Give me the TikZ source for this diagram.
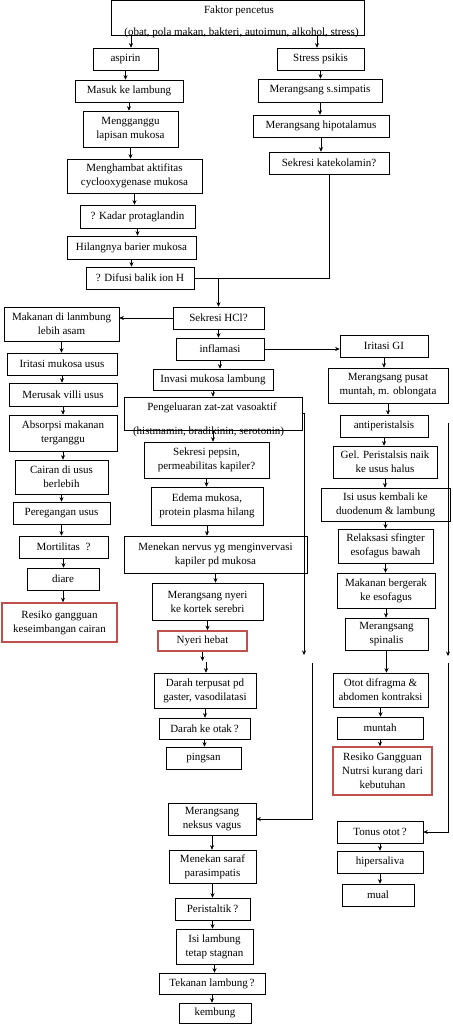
\documentclass[tikz,border=0pt]{standalone}
\usepackage{fontspec}
\setmainfont{Liberation Serif}
\usetikzlibrary{arrows.meta}
\definecolor{resred}{RGB}{192,80,77}

\begin{document}
\begin{tikzpicture}[x=1pt,y=-1pt,
  box/.style={draw, line width=0.6pt, align=center, inner sep=0pt, font=\fontsize{11}{14}\selectfont},
  redbox/.style={box, draw=resred, line width=1.5pt},
  txt/.style={inner sep=0pt, font=\fontsize{11}{14}\selectfont},
  arr/.style={line width=0.6pt, -{Stealth[length=4.5pt,width=4pt]}},
  ln/.style={line width=0.6pt}]

\useasboundingbox (0,0) rectangle (452,1024);

% top
\node[box, minimum width=253pt, minimum height=35pt] (fak) at (237.5,17.8) {};
\node[txt] (faktxt) at (239,11) {Faktor pencetus};
\node[txt] (fakcat) at (241.5,33) {(obat, pola makan, bakteri, autoimun, alkohol, stress)};

% left branch (aspirin)
\node[box, minimum width=65pt, minimum height=22pt] (asp) at (125.5,59) {aspirin};
\node[box, minimum width=108pt, minimum height=22pt] (masuk) at (129,91) {Masuk ke lambung};
\node[box, minimum width=95pt, minimum height=36pt] (ganggu) at (130.5,129) {Mengganggu\\lapisan mukosa};
\node[box, minimum width=135pt, minimum height=34pt] (hambat) at (134.5,176) {Menghambat aktifitas\\cyclooxygenase mukosa};
\node[box, minimum width=115pt, minimum height=23pt] (kadar) at (137.5,216.5) {? Kadar protaglandin};
\node[box, minimum width=129pt, minimum height=23pt] (hilang) at (131.5,247.5) {Hilangnya barier mukosa};
\node[box, minimum width=108pt, minimum height=22pt] (difusi) at (140,278) {? Difusi balik ion H};

% right branch (stress)
\node[box, minimum width=87pt, minimum height=22pt] (stress) at (320.5,59) {Stress psikis};
\node[box, minimum width=124pt, minimum height=23pt] (simpatis) at (320,90.5) {Merangsang s.simpatis};
\node[box, minimum width=136pt, minimum height=22pt] (hipot) at (321,126) {Merangsang hipotalamus};
\node[box, minimum width=120pt, minimum height=22pt] (katek) at (329,163) {Sekresi katekolamin?};

% left column
\node[box, minimum width=115pt, minimum height=34pt] (makan) at (61.5,324) {Makanan di lanmbung\\lebih asam};
\node[box, minimum width=110pt, minimum height=22pt] (iritmuk) at (62,364) {Iritasi mukosa usus};
\node[box, minimum width=108pt, minimum height=23pt] (villi) at (63,394.5) {Merusak villi usus};
\node[box, minimum width=108pt, minimum height=36pt] (absorp) at (63,433) {Absorpsi makanan\\terganggu};
\node[box, minimum width=93pt, minimum height=34pt] (cairan) at (61.5,477) {Cairan di usus\\berlebih};
\node[box, minimum width=97pt, minimum height=22pt] (regang) at (61.5,513) {Peregangan usus};
\node[box, minimum width=89pt, minimum height=22pt] (mortil) at (63.5,547) {Mortilitas \ ?};
\node[box, minimum width=72pt, minimum height=22pt] (diare) at (63,579) {diare};
\node[redbox, minimum width=115pt, minimum height=39pt] (resikocair) at (59.5,622.5) {Resiko gangguan\\keseimbangan cairan};

% center column
\node[box, minimum width=91pt, minimum height=22pt] (hcl) at (218.5,318) {Sekresi HCl?};
\node[box, minimum width=88pt, minimum height=22pt] (inflam) at (220,349) {inflamasi};
\node[box, minimum width=120pt, minimum height=21pt] (invasi) at (213,379.5) {Invasi mukosa lambung};
\node[box, minimum width=178pt, minimum height=33pt] (vaso) at (213,413.5) {};
\node[txt] (vasotxt) at (212,408) {Pengeluaran zat-zat vasoaktif};
\node[txt] (vasocat) at (208.5,431.5) {(histmamin, bradikinin, serotonin)};
\node[box, minimum width=125pt, minimum height=36pt] (pepsin) at (206.5,460) {Sekresi pepsin,\\permeabilitas kapiler?};
\node[box, minimum width=112pt, minimum height=38pt] (edema) at (207,506) {Edema mukosa,\\protein plasma hilang};
\node[box, minimum width=183pt, minimum height=37pt] (nervus) at (215.5,554.5) {Menekan nervus yg menginvervasi\\kapiler pd mukosa};
\node[box, minimum width=111pt, minimum height=37pt] (nyeri) at (207.5,601.5) {Merangsang nyeri\\ke kortek serebri};
\node[redbox, minimum width=89pt, minimum height=20pt] (hebat) at (202.5,641) {Nyeri hebat};
\node[box, minimum width=102pt, minimum height=35pt] (terpusat) at (205,690.5) {Darah terpusat pd\\gaster, vasodilatasi};
\node[box, minimum width=91pt, minimum height=21pt] (otak) at (204.5,728.5) {Darah ke otak\,?};
\node[box, minimum width=75pt, minimum height=22pt] (pingsan) at (203.5,758) {pingsan};
\node[box, minimum width=88pt, minimum height=32pt] (vagus) at (212,819) {Merangsang\\neksus vagus};
\node[box, minimum width=87pt, minimum height=33pt] (parasim) at (212.5,866.5) {Menekan saraf\\parasimpatis};
\node[box, minimum width=75pt, minimum height=22pt] (peris) at (212.5,909) {Peristaltik\,?};
\node[box, minimum width=77pt, minimum height=35pt] (stagnan) at (214.5,946.5) {Isi lambung\\tetap stagnan};
\node[box, minimum width=106pt, minimum height=21pt] (tekanan) at (212,983.5) {Tekanan lambung\,?};
\node[box, minimum width=72pt, minimum height=20pt] (kembung) at (215,1013) {kembung};

% right column
\node[box, minimum width=88pt, minimum height=22pt] (iritgi) at (384,346) {Iritasi GI};
\node[box, minimum width=120pt, minimum height=35pt] (pusat) at (388,385.5) {Merangsang pusat\\muntah, m. oblongata};
\node[box, minimum width=88pt, minimum height=22pt] (antip) at (384,426) {antiperistalsis};
\node[box, minimum width=104pt, minimum height=32pt] (gel) at (385,462) {Gel. Peristalsis naik\\ke usus halus};
\node[box, minimum width=129pt, minimum height=33pt] (isi) at (385.5,504.5) {Isi usus kembali ke\\duodenum \& lambung};
\node[box, minimum width=95pt, minimum height=34pt] (relaks) at (385.5,546) {Relaksasi sfingter\\esofagus bawah};
\node[box, minimum width=98pt, minimum height=35pt] (bergerak) at (386,590.5) {Makanan bergerak\\ke esofagus};
\node[box, minimum width=83pt, minimum height=32pt] (spinal) at (386.5,634) {Merangsang\\spinalis};
\node[box, minimum width=95pt, minimum height=34pt] (otot) at (380.5,690) {Otot difragma \&\\abdomen kontraksi};
\node[box, minimum width=86pt, minimum height=22pt] (muntah) at (380,728) {muntah};
\node[redbox, minimum width=99pt, minimum height=48pt] (resikonut) at (382.5,771) {Resiko Gangguan\\Nutrsi kurang dari\\kebutuhan};
\node[box, minimum width=86pt, minimum height=22pt] (tonus) at (380,832) {Tonus otot\,?};
\node[box, minimum width=86pt, minimum height=22pt] (hiper) at (380,862) {hipersaliva};
\node[box, minimum width=72pt, minimum height=22pt] (mual) at (378,895) {mual};

% arrows down
\draw[arr] (fak.south -| 131,0) -- (131,0 |- asp.north);
\draw[arr] (fak.south -| 317,0) -- (317,0 |- stress.north);
\foreach \a/\b in {asp/masuk, masuk/ganggu, ganggu/hambat, hambat/kadar, kadar/hilang, hilang/difusi,
  stress/simpatis, simpatis/hipot, hipot/katek,
  makan/iritmuk, iritmuk/villi, villi/absorp, absorp/cairan, cairan/regang, regang/mortil, mortil/diare, diare/resikocair,
  hcl/inflam, inflam/invasi, invasi/vaso, vaso/pepsin, pepsin/edema, edema/nervus, nervus/nyeri, nyeri/hebat,
  terpusat/otak, otak/pingsan, vagus/parasim, parasim/peris, peris/stagnan, stagnan/tekanan, tekanan/kembung,
  iritgi/pusat, pusat/antip, antip/gel, gel/isi, isi/relaks, relaks/bergerak, bergerak/spinal, spinal/otot,
  otot/muntah, muntah/resikonut, tonus/hiper, hiper/mual}
  \draw[arr] (\a.south) -- (\a.south |- \b.north);

% join of both branches
\draw[ln] (katek.south) |- (difusi.east);
\draw[arr] (hcl.north |- difusi.east) -- (hcl.north);
\draw[arr] (hcl.west) -- (makan.east |- hcl.west);
\draw[arr] (inflam.east) -- (iritgi.west |- inflam.east);

% nyeri hebat (broken arrow)
\coordinate (hebatend) at (202.5,661);
\coordinate (terpusatstart) at (206,662);
\draw[arr] (hebat.south) -- (hebatend);
\draw[arr] (terpusatstart) -- (terpusatstart |- terpusat.north);

% long lines on the right
\coordinate (vasoend) at (304,655);
\coordinate (vagusstart) at (312,663);
\draw[arr] (vaso.east) -| (vasoend);
\draw[arr] (vagusstart) |- (vagus.east);
\coordinate (rtop) at (448,423);
\coordinate (rend) at (448,656);
\coordinate (rstart) at (448,663);
\draw[arr] (rtop) -- (rend);
\draw[arr] (rstart) |- (tonus.east);

\end{tikzpicture}
\end{document}
